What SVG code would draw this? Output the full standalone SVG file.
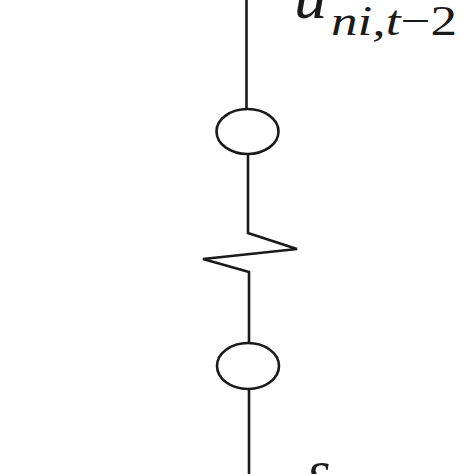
<svg xmlns="http://www.w3.org/2000/svg" width="474" height="474" viewBox="0 0 474 474">
<style>
.ln{fill:none;stroke:#1a1a1a;stroke-width:2.6;stroke-linejoin:miter}
.lbl{font-family:"Liberation Serif","DejaVu Serif",serif;fill:#1a1a1a}
</style>
<rect width="474" height="474" fill="#fff"/>
<g id="connectors">
<path class="ln" d="M246.5 0 V109"/>
<path class="ln" d="M248 154 V233 L297 249 L203 259 L249 272 V343"/>
<path class="ln" d="M249 389 V474"/>
</g>
<g id="node-top-ellipse"><ellipse class="ln" cx="247.5" cy="131.5" rx="31" ry="22.5"/></g>
<g id="node-bottom-ellipse"><ellipse class="ln" cx="248" cy="366" rx="31" ry="23"/></g>
<g id="label-top">
<text class="lbl" x="294" y="18" font-size="66" font-style="italic">u</text>
<text class="lbl" x="331" y="35" font-size="42" textLength="126" lengthAdjust="spacingAndGlyphs"><tspan font-style="italic">ni,t</tspan><tspan>−2</tspan></text>
</g>
<g id="label-bottom">
<text class="lbl" x="300" y="505" font-size="60" font-style="italic">δ</text>
</g>
</svg>
